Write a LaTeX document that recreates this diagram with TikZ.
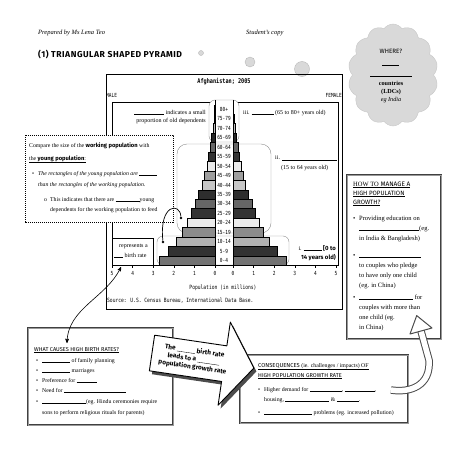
\documentclass[tikz,border=0pt]{standalone}
\usepackage{fontspec}
\setmainfont{Liberation Serif}
\setsansfont{Fira Sans}
\newfontfamily\chartfont[FakeStretch=0.8]{DejaVu Sans Mono}
\usetikzlibrary{shapes}
\usetikzlibrary{arrows}
\newcommand\answerline[1]{\rule[-0.6pt]{#1}{0.35pt}}
\tikzset{
	txt/.style = {
		inner sep=0pt,
		anchor=base west,
		font=\fontsize{6}{7}\selectfont
	},
	txt_small/.style = {
		txt,
		font=\fontsize{5.8}{7}\selectfont
	},
	txt_manage/.style = {
		txt,
		font=\fontsize{6.5}{7}\selectfont
	},
	hand/.style = {
		txt,
		font=\sffamily\fontsize{5.6}{7}\selectfont
	},
	chart_txt/.style = {
		inner sep=0pt,
		font=\chartfont\fontsize{5.6}{6}\selectfont
	},
	bar/.style = {
		draw=black,
		line width=0.3pt
	},
	agebox/.style = {
		draw=black!45,
		rounded corners=6pt,
		line width=0.4pt
	},
	sheetbox/.style = {
		draw=black!75,
		line width=0.9pt,
		double=black!40,
		double distance=0.8pt,
		fill=white
	},
	bubble/.style = {
		circle,
		fill=black!15,
		draw=black!28,
		inner sep=0pt
	},
	dot/.style = {
		circle,
		fill=black,
		inner sep=0pt,
		minimum size=2.6pt
	},
}

\begin{document}
\begin{tikzpicture}[x=1pt, y=-1pt, >=stealth']
\useasboundingbox (0,0) rectangle (452,452);

% header
\node [txt, font=\itshape\fontsize{6.5}{7}\selectfont] (prepared) at (38,35) {Prepared by Ms Lena Teo};
\node [txt, font=\itshape\fontsize{6.5}{7}\selectfont] (copy) at (246,35) {Student's copy};
\node [txt, font=\sffamily\bfseries\fontsize{8.6}{10}\selectfont\addfontfeature{LetterSpace=6}] (title) at (38,57) {(1) TRIANGULAR SHAPED PYRAMID};

% thought cloud
\node [bubble, minimum size=5pt] (bub1) at (201,53) {};
\node [bubble, minimum size=10pt] (bub2) at (250,62) {};
\node [bubble, minimum size=15pt] (bub3) at (302,69) {};
\node [cloud, cloud puffs=14, cloud puff arc=110, aspect=0.85, fill=black!15, draw=black!22, minimum width=90pt, minimum height=102pt] (where) at (393,75) {};
\node [hand, anchor=base, font=\sffamily\fontsize{6.2}{7}\selectfont] (wherehead) at (391,53) {WHERE?};
\draw (382,65) -- (399,65);
\draw (370,76) -- (412,76);
\node [txt, anchor=base, font=\bfseries\fontsize{6.2}{7}\selectfont] (ldc1) at (391,85) {countries};
\node [txt, anchor=base, font=\bfseries\fontsize{6.2}{7}\selectfont] (ldc2) at (391,93) {(LDCs)};
\node [txt, anchor=base, font=\itshape\fontsize{6.2}{7}\selectfont] (ldc3) at (391,101) {eg India};

% chart frame
\draw [line width=0.6pt] (106,74) rectangle (342,309);
\node [chart_txt, font=\chartfont\bfseries\fontsize{6.5}{7}\selectfont] (country) at (224,82) {Afghanistan; 2005};
\node [chart_txt, anchor=base west] (male) at (106,97) {MALE};
\node [chart_txt, anchor=base east] (female) at (342,97) {FEMALE};
\draw [line width=0.5pt] (112,102) rectangle (338,265);

% age groups
\draw [agebox] (157,236) rectangle (289,265);
\draw [agebox, rounded corners=10pt] (177,144) rectangle (271,233);
\draw [agebox, fill=white] (209,100) rectangle (239,142);
\draw [line width=0.4pt] (215,100) -- (215,265);
\draw [line width=0.4pt] (233,100) -- (233,265);

\foreach \age/\m/\f/\shade [count=\k from 0] in {0-4/2.72/2.57/55, 5-9/2.28/2.13/80, 10-14/1.90/1.75/30, 15-19/1.60/1.46/45, 20-24/1.36/1.26/8, 25-29/1.17/1.07/80, 30-34/0.97/0.92/60, 35-39/0.82/0.73/82, 40-44/0.63/0.58/22, 45-49/0.53/0.49/38, 50-54/0.40/0.39/8, 55-59/0.32/0.30/80, 60-64/0.25/0.24/60, 65-69/0.18/0.17/85, 70-74/0.11/0.11/25, 75-79/0.06/0.06/40, 80+/0.03/0.03/10}
{
	\pgfmathsetmacro\yc{260.5-9.44*\k}
	\draw [bar, fill=black!\shade] (215,\yc-4.72) rectangle ({215-20.6*\m},\yc+4.72);
	\draw [bar, fill=black!\shade] (233,\yc-4.72) rectangle ({233+20.6*\f},\yc+4.72);
	\node [chart_txt] (age\k) at (224,\yc) {\age};
}

% axis
\draw [line width=0.5pt] (112,265) -- (338,265);
\foreach \n in {0,...,5}
{
	\draw ({215-20.6*\n},265) -- ({215-20.6*\n},268);
	\draw ({233+20.6*\n},265) -- ({233+20.6*\n},268);
	\node [chart_txt] (xl\n) at ({215-20.6*\n},273) {\n};
	\node [chart_txt] (xr\n) at ({233+20.6*\n},273) {\n};
}
\node [chart_txt, font=\chartfont\fontsize{5.8}{6}\selectfont] (xlabel) at (223,288) {Population (in millions)};
\node [chart_txt, anchor=base west, font=\chartfont\fontsize{5.8}{6}\selectfont] (source) at (107,302) {Source: U.S. Census Bureau, International Data Base.};

% labels inside chart
\node [txt, anchor=base east] (olddep1) at (206,114) {\answerline{30pt} indicates a small};
\node [txt, anchor=base east] (olddep2) at (206,122) {proportion of old dependents};
\node [txt] (iii) at (243,114) {iii. \answerline{22pt} (65 to 80+ years old)};
\node [txt] (ii) at (275,159) {ii.};
\draw [line width=0.35pt] (282,160) -- (337,160);
\node [txt] (iiage) at (281,169) {(15 to 64 years old)};
\node [txt, anchor=base east] (i) at (336,250) {i. \answerline{18pt} {\sffamily\bfseries [0 to}};
\node [txt, anchor=base east, font=\sffamily\bfseries\fontsize{6}{7}\selectfont] (iage) at (336,259) {14 years old)};
\draw [line width=0.4pt] (112,238) rectangle (153,265);
\node [txt] (represents) at (119,247) {represents a};
\node [txt] (birthrate) at (114,257) {\answerline{9pt} birth rate};

% compare box
\draw [line width=0.8pt, dash pattern=on 1.2pt off 0.8pt, fill=white] (25,135) rectangle (173,222);
\node [txt_small] (cmp1) at (29,147) {Compare the size of the {\sffamily\bfseries working population} with};
\node [txt_small] (cmp2) at (29,160) {\underline{the {\sffamily\bfseries young population}:}};
\node [txt_small] (cmpb1) at (32,175) {\textbullet};
\node [txt_small, font=\itshape\fontsize{5.8}{7}\selectfont] (cmp3) at (38,175) {The rectangles of the young population are \answerline{18pt}};
\node [txt_small, font=\itshape\fontsize{5.8}{7}\selectfont] (cmp4) at (38,186) {than the rectangles of the working population.};
\node [txt_small] (cmpb2) at (44,201) {o};
\node [txt_small] (cmp5) at (50,201) {This indicates that there are \answerline{24pt}young};
\node [txt_small] (cmp6) at (50,211) {dependents for the working population to feed};

\node [dot] (birthdot) at (163,242) {};
\node [dot] (youngdot) at (181,218) {};
\draw [line width=0.7pt] (birthdot) .. controls (159,204) and (180,202) .. (youngdot);

% causes box
\draw [sheetbox] (28,328) rectangle (173,425);
\coordinate (birthtip) at (121,267);
\coordinate (causestip) at (67,343);
\draw [<->, line width=0.6pt] (birthtip) .. controls (106,298) and (68,308) .. (causestip);
\node [hand] (causes) at (34,351) {\underline{WHAT CAUSES HIGH BIRTH RATES?}};
\foreach \entry/\y [count=\c] in {{\answerline{28pt} of family planning}/362, {\answerline{28pt} marriages}/372, {Preference for \answerline{20pt}}/382, {Need for \answerline{62pt}}/392, {\answerline{44pt}(eg. Hindu ceremonies require}/403}
{
	\node [txt_small] (causeb\c) at (36,\y) {\textbullet};
	\node [txt_small] (cause\c) at (42,\y) {\entry};
}
\node [txt_small] (sons) at (42,414) {sons to perform religious rituals for parents)};

% consequences box
\draw [sheetbox] (240,355) rectangle (408,423);
\node [txt_small] (cons1) at (258,367) {\underline{{\sffamily CONSEQUENCES} (ie. challenges / impacts) OF}};
\node [hand] (cons2) at (258,377) {\underline{HIGH POPULATION GROWTH RATE}};
\node [txt_small] (consb1) at (258,391) {\textbullet};
\node [txt_small] (cons3) at (264,391) {Higher demand for \answerline{32pt}, \answerline{30pt},};
\node [txt_small] (cons4) at (264,401) {housing, \answerline{44pt} \& \answerline{22pt}.};
\node [txt_small] (consb2) at (258,414) {\textbullet};
\node [txt_small] (cons5) at (264,414) {\answerline{48pt} problems (eg. increased pollution)};

% birth rate arrow
\begin{scope}[shift={(152,353)}, rotate=-8.4]
	\fill [black!70] (3,-15) -- (76,-15) -- (76,-39) -- (106,3) -- (76,45) -- (76,21) -- (3,21) -- cycle;
	\draw [fill=white, line width=0.9pt, line join=round] (0,-18) -- (73,-18) -- (73,-42) -- (103,0) -- (73,42) -- (73,18) -- (0,18) -- cycle;
	\node [transform shape, align=center, inner sep=0pt, font=\sffamily\bfseries\fontsize{6.5}{8}\selectfont] (growth) at (42,0) {The \answerline{18pt} birth rate\\leads to a \answerline{22pt}\\population growth rate};
\end{scope}

% manage box
\draw [sheetbox] (347,175) rectangle (441,339);
\node [txt_manage] (manage1) at (353,186) {\underline{HOW TO {\sffamily MANAGE A}}};
\node [hand, font=\sffamily\fontsize{6.2}{7}\selectfont] (manage2) at (353,195) {\underline{HIGH POPULATION}};
\node [hand, font=\sffamily\fontsize{6.2}{7}\selectfont] (manage3) at (353,204) {\underline{GROWTH?}};
\node [txt_manage] (mb1) at (353,220) {\textbullet};
\node [txt_manage] (mb2) at (353,257) {\textbullet};
\node [txt_manage] (mb3) at (353,299) {\textbullet};
\foreach \entry/\y [count=\c] in {Providing education on/220, {\answerline{60pt}(eg.}/230, {in India \& Bangladesh)}/240, {\answerline{62pt}}/257, to couples who pledge/267, to have only one child/277, (eg. in China)/287, {\answerline{54pt} for}/299, couples with more than/309, one child (eg./319, in China)/329}
{
	\node [txt_manage] (manage\c) at (359,\y) {\entry};
}

% u-turn arrow
\coordinate (uturnstart) at (391,390);
\coordinate (uturnend) at (421,331);
\draw [black!70, line width=1pt, double=white, double distance=5.5pt] (uturnstart) .. controls (410,393) and (431,386) .. (429,360) -- (uturnend);
\draw [fill=white, draw=black!70, line width=1pt, line join=round] (410,334) -- (416.7,315.6) -- (432,328) -- cycle;
\end{tikzpicture}
\end{document}
